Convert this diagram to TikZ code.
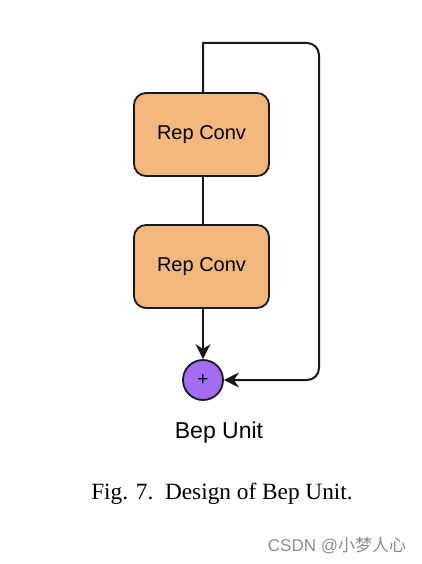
\documentclass[tikz,border=0pt]{standalone}
\usepackage{fontspec}
\setmainfont{Liberation Serif}
\newfontfamily\helv{Liberation Sans}
\newfontfamily\cjk{Noto Sans CJK SC}
\usetikzlibrary{arrows.meta}
\definecolor{boxfill}{HTML}{F2B77C}
\definecolor{sumfill}{HTML}{A56EF2}
\begin{document}
\begin{tikzpicture}[x=1pt,y=-1pt,
  convbox/.style={draw=black!90,line width=1.8pt,fill=boxfill,rounded corners=12pt,minimum width=135pt,minimum height=83pt,inner sep=0pt,font=\helv\fontsize{20}{22}\selectfont},
  sumnode/.style={circle,draw=black!90,line width=1.8pt,fill=sumfill,minimum size=40pt,inner sep=0pt,font=\helv\fontsize{19}{20}\selectfont},
  conn/.style={line width=2pt,draw=black!90},
  tip/.style={-{Stealth[length=15pt,width=15pt,inset=5pt]}}]
\fill[white] (0,0) rectangle (421,564);
\node[convbox] (c1) at (201.5,134.5) {Rep Conv};
\node[convbox] (c2) at (201.5,266.5) {Rep Conv};
\node[sumnode] (s) at (203,380) {+};
\coordinate (t) at (203,43);
\coordinate (r) at (319,43);
\coordinate (rb) at (319,380);
\draw[conn,tip] (c1.north -| t) -- (t) [rounded corners=12pt] -- (r) -- (rb) -- (s.east);
\draw[conn] (c1.south -| t) -- (c2.north -| t);
\draw[conn,tip] (c2.south -| t) -- (s.north);
\node[font=\helv\fontsize{23}{26}\selectfont] (lbl) at (219,433) {Bep Unit};
\node[font=\fontsize{23.3}{26}\selectfont] (cap) at (222,494) {Fig. 7.\ \ Design of Bep Unit.};
\node[text=black!45,font=\fontsize{17}{20}\selectfont] (wm) at (337,546) {\helv CSDN @\cjk 小梦人心};
\end{tikzpicture}
\end{document}
